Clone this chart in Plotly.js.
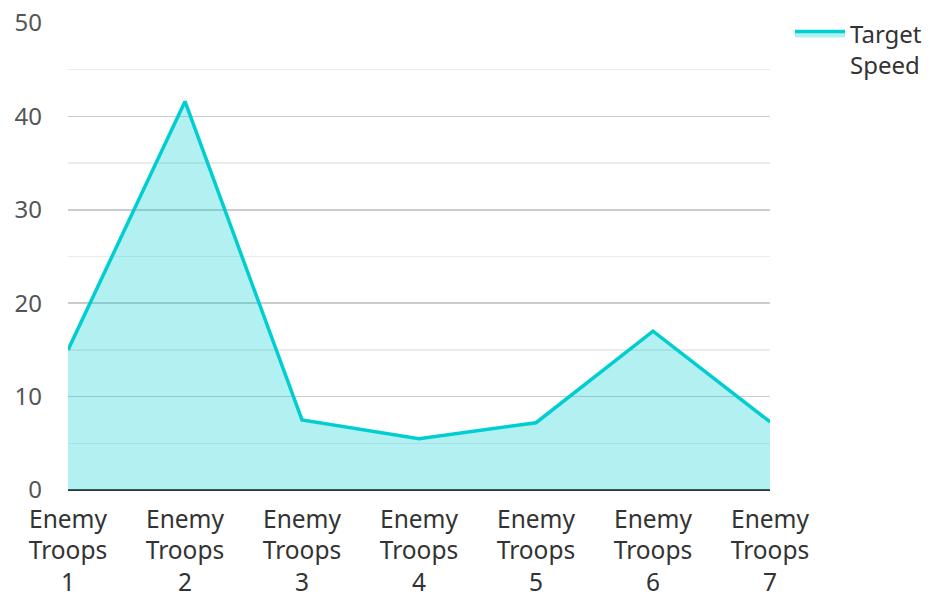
<!DOCTYPE html>
<html>
<head>
<meta charset="utf-8">
<script src="https://cdn.plot.ly/plotly-3.0.1.min.js"></script>
<style>html,body{margin:0;padding:0;background:#fff;}#chart{width:930px;height:594px;}</style>
</head>
<body>
<div id="chart"></div>
<script>
const categories = ["Enemy Troops 1","Enemy Troops 2","Enemy Troops 3","Enemy Troops 4","Enemy Troops 5","Enemy Troops 6","Enemy Troops 7"];
const targetSpeed = [15, 41.6, 7.5, 5.5, 7.2, 17, 7.3];
const seriesName = "Target<br>Speed";
const yTicks = [0, 10, 20, 30, 40, 50];

const trace = {
  type: 'scatter',
  mode: 'lines',
  x: categories,
  y: targetSpeed,
  name: seriesName,
  fill: 'tozeroy',
  fillcolor: 'rgba(0,206,209,0.3)',
  line: {color: '#00CED1', width: 3.5},
  hoverinfo: 'skip'
};

const layout = {
  width: 930, height: 594,
  margin: {l: 68, r: 160, t: 23, b: 104, autoexpand: false},
  paper_bgcolor: '#fff', plot_bgcolor: '#fff',
  font: {family: '"Noto Sans", sans-serif', size: 24, color: '#333'},
  showlegend: true,
  legend: {x: 1.0285, y: 1.025, xanchor: 'left', yanchor: 'top', valign: 'top', itemwidth: 50, font: {size: 24, color: '#333'}, tracegroupgap: 0},
  xaxis: {
    type: 'category',
    range: [0, 6],
    automargin: false,
    tickvals: categories,
    ticktext: categories.map(c => c.replace(/ /g, '<br>')),
    showgrid: false,
    showline: false,
    zeroline: false,
    ticks: '',
    ticklabelstandoff: 12,
    tickfont: {size: 24.5, color: '#333'},
    fixedrange: true
  },
  yaxis: {
    range: [0, 50],
    automargin: false,
    tickvals: yTicks,
    showgrid: true,
    gridcolor: '#cccccc',
    gridwidth: 1.5,
    minor: {dtick: 5, tick0: 0, showgrid: true, gridcolor: '#ebebeb', gridwidth: 1.5},
    zeroline: true,
    zerolinecolor: '#333',
    zerolinewidth: 2,
    ticks: '',
    ticklabelstandoff: 25,
    tickfont: {size: 24, color: '#555'},
    fixedrange: true
  }
};

Plotly.newPlot('chart', [trace], layout, {displayModeBar: false, staticPlot: true});
</script>
</body>
</html>
